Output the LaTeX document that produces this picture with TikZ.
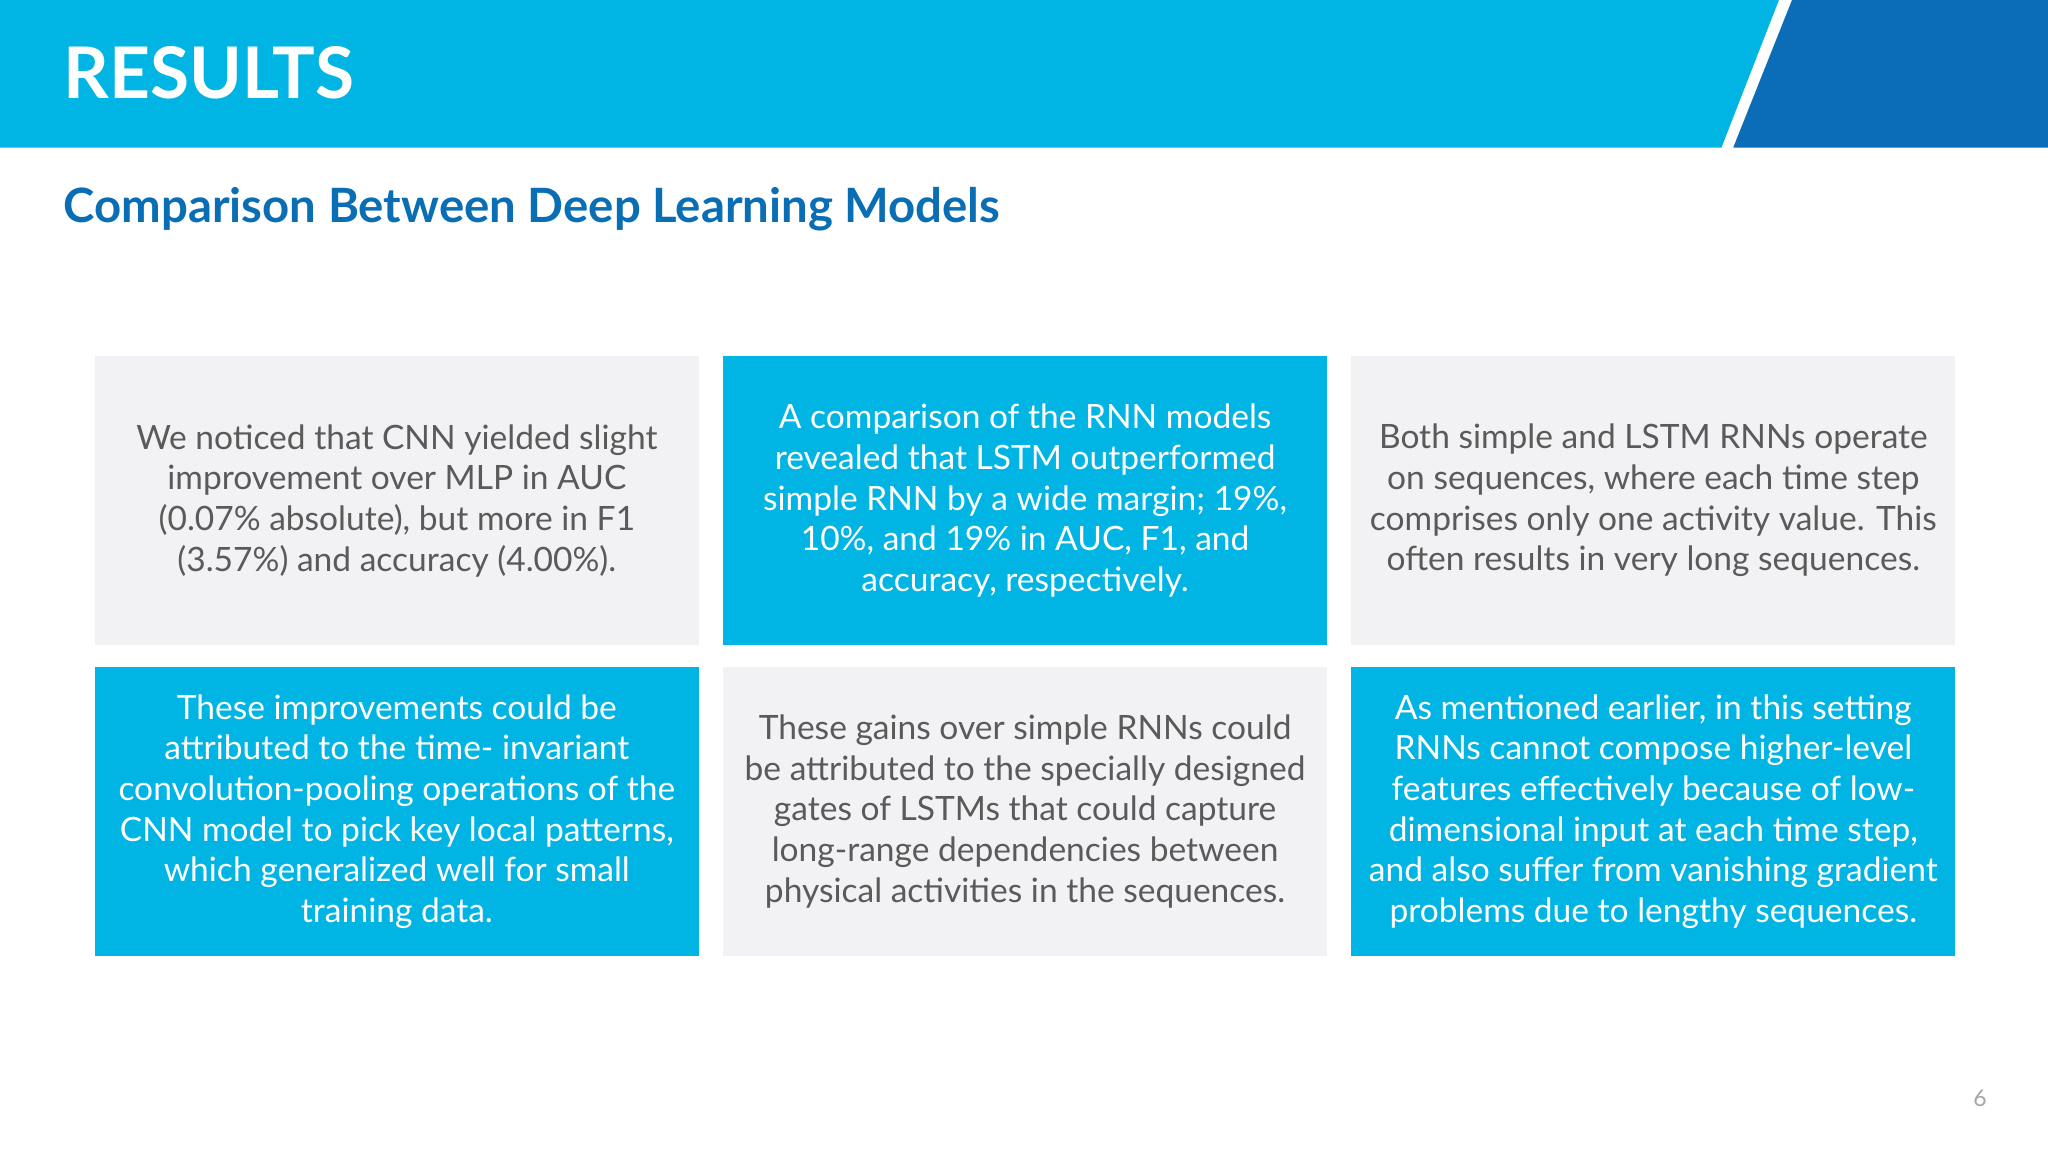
\documentclass[tikz,border=0pt]{standalone}
\usepackage{fontspec}
\setmainfont{Lato}
\definecolor{cyanb}{HTML}{00B4E3}
\definecolor{darkb}{HTML}{0B6DB7}
\definecolor{subb}{HTML}{0A6EB4}
\definecolor{greyb}{HTML}{F2F1F3}
\definecolor{txt}{HTML}{5A5A5A}
\begin{document}
\begin{tikzpicture}[x=0.01cm,y=-0.01cm,
  cell/.style={minimum width=4.62cm,minimum height=2.21cm,inner sep=0pt,anchor=north west,
    align=center,font=\fontsize{7.3}{8.85}\selectfont},
  greycell/.style={cell,fill=greyb,text=txt},
  bluecell/.style={cell,fill=cyanb,text=white}]
\useasboundingbox (0,0) rectangle (1568,882);
\fill[white] (0,0) rectangle (1568,882);
\fill[cyanb] (0,0) -- (1362,0) -- (1318,113) -- (0,113) -- cycle;
\fill[darkb] (1372,0) -- (1568,0) -- (1568,113) -- (1327,113) -- cycle;
\node[anchor=west,text=white,font=\bfseries\fontsize{15.5}{18}\selectfont,inner sep=0pt] (title) at (48,56) {RESULTS};
\node[anchor=west,text=subb,font=\bfseries\fontsize{10.3}{12}\selectfont,inner sep=0pt] (sub) at (48,160) {Comparison Between Deep Learning Models};
\node[greycell] (a) at (72,272) {We noticed that CNN yielded slight\\improvement over MLP in AUC\\(0.07\% absolute), but more in F1\\(3.57\%) and accuracy (4.00\%).};
\node[bluecell] (b) at (553,272) {A comparison of the RNN models\\revealed that LSTM outperformed\\simple RNN by a wide margin; 19\%,\\10\%, and 19\% in AUC, F1, and\\accuracy, respectively.};
\node[greycell] (c) at (1034,272) {Both simple and LSTM RNNs operate\\on sequences, where each time step\\comprises only one activity value. This\\often results in very long sequences.};
\node[bluecell] (d) at (72,510) {These improvements could be\\attributed to the time- invariant\\convolution-pooling operations of the\\CNN model to pick key local patterns,\\which generalized well for small\\training data.};
\node[greycell] (e) at (553,510) {These gains over simple RNNs could\\be attributed to the specially designed\\gates of LSTMs that could capture\\long-range dependencies between\\physical activities in the sequences.};
\node[bluecell] (f) at (1034,510) {As mentioned earlier, in this setting\\RNNs cannot compose higher-level\\features effectively because of low-\\dimensional input at each time step,\\and also suffer from vanishing gradient\\problems due to lengthy sequences.};
\node[text=gray!70,font=\fontsize{5}{6}\selectfont,inner sep=0pt] (pg) at (1516,841) {6};
\end{tikzpicture}
\end{document}
